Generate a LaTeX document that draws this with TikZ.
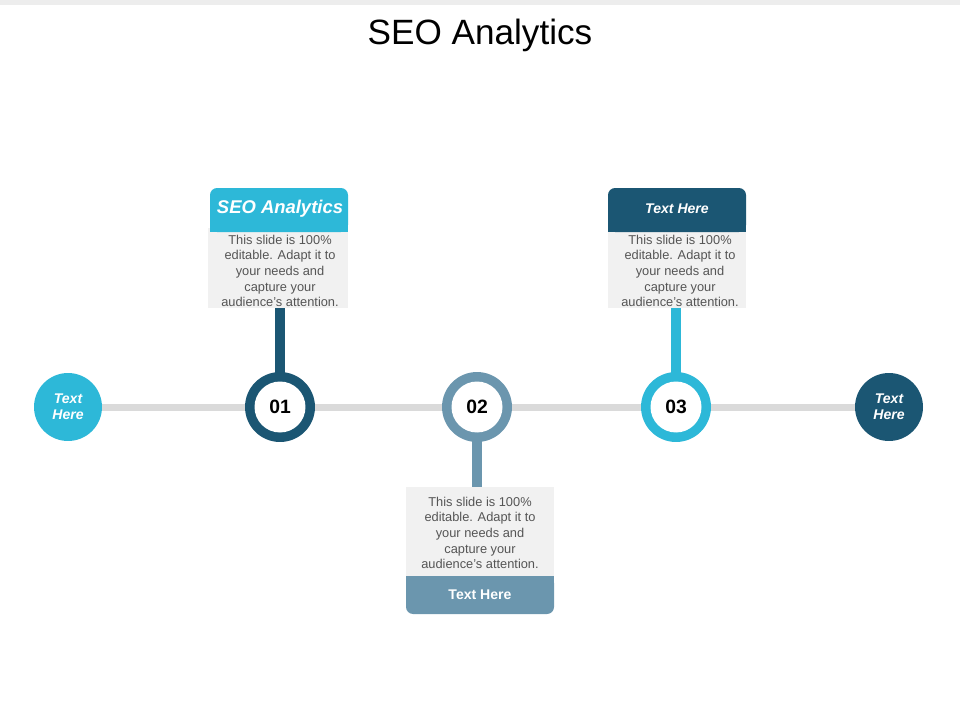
\documentclass[tikz,border=0pt]{standalone}
\usepackage{fontspec}
\setmainfont{Liberation Sans}
\definecolor{cyanC}{HTML}{2DB8D8}
\definecolor{navyC}{HTML}{1B5673}
\definecolor{slateC}{HTML}{6B96AE}
\definecolor{railC}{HTML}{DADADA}
\definecolor{cardC}{HTML}{F1F1F1}
\definecolor{bodyC}{HTML}{555555}
\tikzset{
  body/.style={text=bodyC, align=center, font=\fontsize{7.3}{8.9}\selectfont},
  ring/.style={circle, minimum size=1.4cm, fill=#1},
  hole/.style={circle, minimum size=1.02cm, fill=white, font=\bfseries\fontsize{11}{11}\selectfont},
  endpt/.style={circle, minimum size=1.36cm, fill=#1, text=white, align=center, font=\bfseries\itshape\fontsize{8}{9}\selectfont},
}
\begin{document}
\begin{tikzpicture}[x=0.02cm,y=-0.02cm]
\useasboundingbox (0,0) rectangle (960,720);
\fill[black!7] (0,0) rectangle (960,5);
\node (title) at (480,35) {\fontsize{20}{20}\selectfont SEO Analytics};

% rail
\draw[railC, line width=0.14cm] (68,407) -- (889,407);

% stems
\draw[navyC, line width=0.2cm] (280,305) -- (280,378);
\draw[slateC, line width=0.2cm] (477,436) -- (477,490);
\draw[cyanC, line width=0.2cm] (676,305) -- (676,378);

% cards
\fill[cardC] (208,228) rectangle (348,308);
\fill[cyanC, rounded corners=4pt] (210,188) rectangle (348,232);
\fill[cyanC] (210,215) rectangle (348,232);
\node (h1) at (280,209) {\color{white}\bfseries\itshape\fontsize{10.5}{11}\selectfont SEO Analytics};
\node[body] (b1) at (280,271) {This slide is 100\%\\editable. Adapt it to\\your needs and\\capture your\\audience's attention.};

\fill[cardC] (608,228) rectangle (746,308);
\fill[navyC, rounded corners=4pt] (608,188) rectangle (746,232);
\fill[navyC] (608,215) rectangle (746,232);
\node (h3) at (677,209) {\color{white}\bfseries\itshape\fontsize{8}{9}\selectfont Text Here};
\node[body] (b3) at (680,271) {This slide is 100\%\\editable. Adapt it to\\your needs and\\capture your\\audience's attention.};

\fill[cardC] (406,487) rectangle (554,580);
\fill[slateC, rounded corners=4pt] (406,576) rectangle (554,614);
\fill[slateC] (406,576) rectangle (554,595);
\node (h2) at (480,595) {\color{white}\bfseries\fontsize{8}{9}\selectfont Text Here};
\node[body] (b2) at (480,533) {This slide is 100\%\\editable. Adapt it to\\your needs and\\capture your\\audience's attention.};

% circles
\node[endpt=cyanC] (left) at (68,407) {Text\\Here};
\node[endpt=navyC] (right) at (889,407) {Text\\Here};
\foreach \x/\c/\n in {280/navyC/01, 477/slateC/02, 676/cyanC/03}{
  \node[ring=\c] (r\n) at (\x,407) {};
  \node[hole] (n\n) at (\x,407) {\n};
}
\end{tikzpicture}
\end{document}
